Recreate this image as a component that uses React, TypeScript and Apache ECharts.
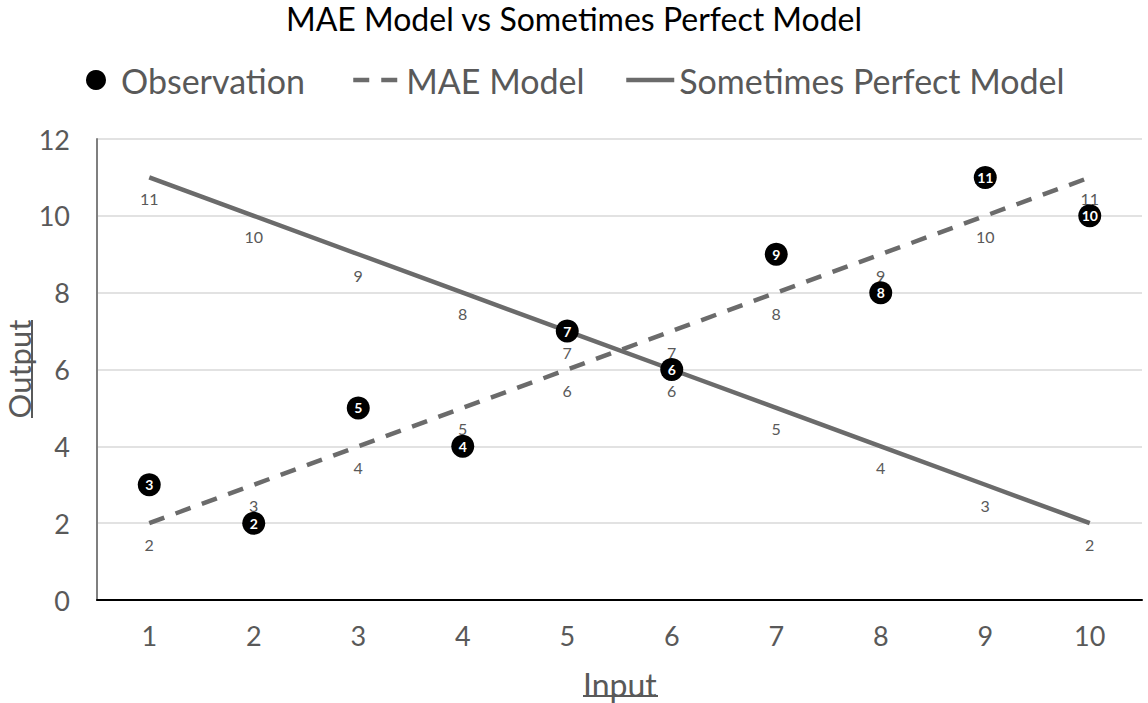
import React, { useEffect, useRef } from "react";
import * as echarts from "echarts";

// Input values on the x axis
const inputs = ["1", "2", "3", "4", "5", "6", "7", "8", "9", "10"];
// Observed outputs
const observations = [3, 2, 5, 4, 7, 6, 9, 8, 11, 10];
// MAE model predictions
const maeModel = [2, 3, 4, 5, 6, 7, 8, 9, 10, 11];
// "Sometimes perfect" model predictions
const perfectModel = [11, 10, 9, 8, 7, 6, 5, 4, 3, 2];

const yMin = 0;
const yMax = 12;
const yStep = 2;

const FONT = "Lato, 'Open Sans', sans-serif";
const GREY_TEXT = "#595959";
const LINE_GREY = "#6b6b6b";

export default function App() {
  const ref = useRef<HTMLDivElement>(null);

  useEffect(() => {
    if (!ref.current) return;
    const chart = echarts.init(ref.current, undefined, { renderer: "svg" });

    const lineLabel = {
      show: true,
      position: "bottom" as const,
      distance: 12,
      color: GREY_TEXT,
      fontFamily: FONT,
      fontSize: 16,
    };

    const legendText = { fontFamily: FONT, fontSize: 34, color: GREY_TEXT };
    const legendTop = 58;

    chart.setOption({
      animation: false,
      backgroundColor: "#ffffff",
      title: {
        text: "MAE Model vs Sometimes Perfect Model",
        left: "center",
        top: -3,
        textStyle: {
          fontFamily: FONT,
          fontSize: 32,
          fontWeight: "normal",
          color: "#000000",
        },
      },
      legend: [
        {
          left: 81,
          top: legendTop,
          itemWidth: 20,
          itemHeight: 20,
          textStyle: { ...legendText, padding: [0, 0, 0, 10] },
          data: ["Observation"],
        },
        {
          left: 346,
          top: legendTop,
          itemWidth: 48,
          itemHeight: 20,
          lineStyle: { width: 4.5 },
          textStyle: legendText,
          data: ["MAE Model"],
        },
        {
          left: 619,
          top: legendTop,
          itemWidth: 48,
          itemHeight: 20,
          lineStyle: { width: 4.5 },
          textStyle: legendText,
          data: ["Sometimes Perfect Model"],
        },
      ],
      grid: { left: 97, right: 6, top: 139, bottom: 103 },
      xAxis: {
        type: "category",
        data: inputs,
        boundaryGap: true,
        axisTick: { show: false },
        axisLine: { show: true, lineStyle: { color: "#000000", width: 2 } },
        axisLabel: {
          color: GREY_TEXT,
          fontFamily: FONT,
          fontSize: 27,
          margin: 22,
        },
        splitLine: { show: false },
      },
      yAxis: {
        type: "value",
        min: yMin,
        max: yMax,
        interval: yStep,
        axisTick: { show: false },
        axisLine: { show: true, lineStyle: { color: "#7f7f7f", width: 2 } },
        axisLabel: {
          color: GREY_TEXT,
          fontFamily: FONT,
          fontSize: 27,
          margin: 27,
        },
        splitLine: { show: true, lineStyle: { color: "#d9d9d9", width: 1.5 } },
      },
      series: [
        {
          name: "MAE Model",
          type: "line",
          data: maeModel,
          symbol: "circle",
          symbolSize: 2,
          itemStyle: { color: "rgba(0,0,0,0)" },
          lineStyle: { color: LINE_GREY, width: 4.5, type: [16, 12], cap: "butt" },
          label: lineLabel,
          z: 2,
        },
        {
          name: "Sometimes Perfect Model",
          type: "line",
          data: perfectModel,
          symbol: "circle",
          symbolSize: 2,
          itemStyle: { color: "rgba(0,0,0,0)" },
          lineStyle: { color: LINE_GREY, width: 4.5, type: "solid" },
          label: lineLabel,
          z: 2,
        },
        {
          name: "Observation",
          type: "scatter",
          data: inputs.map((x, i) => [x, observations[i]]),
          symbol: "circle",
          symbolSize: 23,
          itemStyle: { color: "#000000", opacity: 1 },
          label: {
            show: true,
            position: "inside",
            color: "#ffffff",
            fontFamily: FONT,
            fontWeight: "bold",
            fontSize: 14,
            formatter: (p: any) => String(observations[p.dataIndex]),
          },
          z: 5,
        },
      ],
      graphic: [
        {
          type: "text",
          left: 583,
          top: 668,
          style: {
            text: "Input",
            fontFamily: FONT,
            fontSize: 32,
            fill: GREY_TEXT,
          },
        },
        {
          type: "line",
          shape: { x1: 583, y1: 696, x2: 658, y2: 696 },
          style: { stroke: GREY_TEXT, lineWidth: 2 },
        },
        {
          type: "text",
          x: 19,
          y: 369,
          rotation: Math.PI / 2,
          style: {
            text: "Output",
            fontFamily: FONT,
            fontSize: 31,
            fill: GREY_TEXT,
            align: "center",
            verticalAlign: "middle",
          },
        },
        {
          type: "line",
          shape: { x1: 32, y1: 320, x2: 32, y2: 418 },
          style: { stroke: GREY_TEXT, lineWidth: 2 },
        },
      ],
    });

    return () => chart.dispose();
  }, []);

  return (
    <div
      ref={ref}
      style={{ position: "fixed", left: 0, top: 0, width: 1148, height: 703, background: "#fff" }}
    />
  );
}
